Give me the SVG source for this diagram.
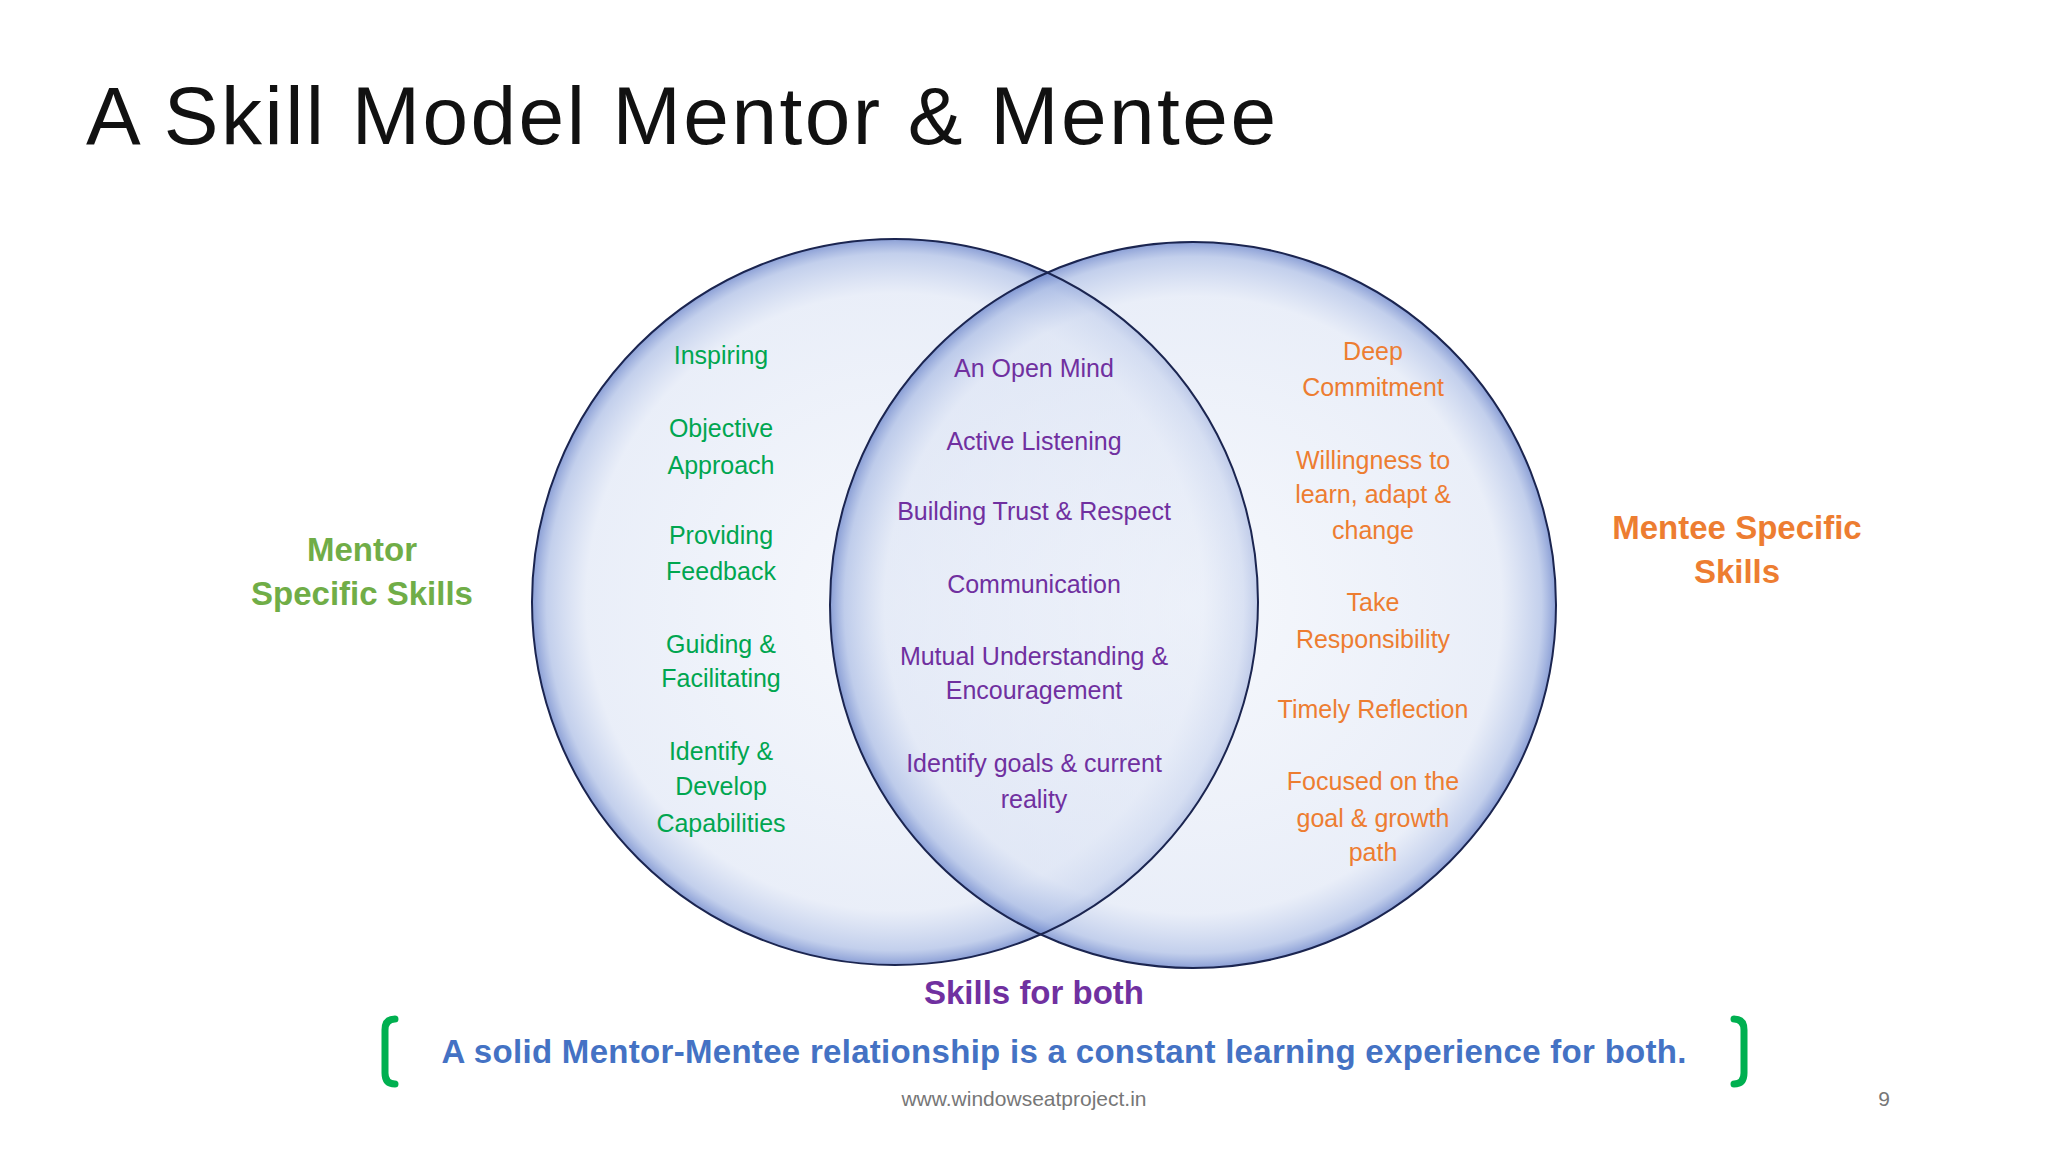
<svg xmlns="http://www.w3.org/2000/svg" width="2048" height="1152" viewBox="0 0 2048 1152">
<defs>
<radialGradient id="g" cx="50%" cy="50%" r="50%">
<stop offset="0" stop-color="#eef2fa" stop-opacity="0.55"/>
<stop offset="0.85" stop-color="#dbe3f4" stop-opacity="0.6"/>
<stop offset="0.96" stop-color="#a9bbe4" stop-opacity="0.7"/>
<stop offset="1" stop-color="#6f88cc" stop-opacity="0.8"/>
</radialGradient>
</defs>
<style>
text{font-family:"Liberation Sans",Arial,sans-serif;text-anchor:middle}
.l{fill:#00a650;font-size:25px}
.m{fill:#7030a0;font-size:25px}
.r{fill:#ed7d31;font-size:25px}
.h{font-size:33px;font-weight:bold}
.c{fill:url(#g)}
.o{fill:none;stroke:#1b2550;stroke-width:2}
</style>
<rect width="2048" height="1152" fill="#fff"/>
<text x="86" y="144" style="text-anchor:start;font-size:82px" fill="#111" textLength="1190">A Skill Model Mentor &amp; Mentee</text>
<g id="circles">
<circle id="mentor" class="c" cx="895" cy="602" r="363"/>
<circle id="mentee" class="c" cx="1193" cy="605" r="363"/>
<circle class="o" cx="895" cy="602" r="363"/>
<circle class="o" cx="1193" cy="605" r="363"/>
</g>
<g id="left">
<text class="l" x="721" y="364">Inspiring</text>
<text class="l" x="721" y="437">Objective</text>
<text class="l" x="721" y="474">Approach</text>
<text class="l" x="721" y="544">Providing</text>
<text class="l" x="721" y="580">Feedback</text>
<text class="l" x="721" y="653">Guiding &amp;</text>
<text class="l" x="721" y="687">Facilitating</text>
<text class="l" x="721" y="760">Identify &amp;</text>
<text class="l" x="721" y="795">Develop</text>
<text class="l" x="721" y="832">Capabilities</text>
</g>
<g id="middle">
<text class="m" x="1034" y="377">An Open Mind</text>
<text class="m" x="1034" y="450">Active Listening</text>
<text class="m" x="1034" y="520">Building Trust &amp; Respect</text>
<text class="m" x="1034" y="593">Communication</text>
<text class="m" x="1034" y="665">Mutual Understanding &amp;</text>
<text class="m" x="1034" y="699">Encouragement</text>
<text class="m" x="1034" y="772">Identify goals &amp; current</text>
<text class="m" x="1034" y="808">reality</text>
</g>
<g id="right">
<text class="r" x="1373" y="360">Deep</text>
<text class="r" x="1373" y="396">Commitment</text>
<text class="r" x="1373" y="469">Willingness to</text>
<text class="r" x="1373" y="503">learn, adapt &amp;</text>
<text class="r" x="1373" y="539">change</text>
<text class="r" x="1373" y="611">Take</text>
<text class="r" x="1373" y="648">Responsibility</text>
<text class="r" x="1373" y="718">Timely Reflection</text>
<text class="r" x="1373" y="790">Focused on the</text>
<text class="r" x="1373" y="827">goal &amp; growth</text>
<text class="r" x="1373" y="861">path</text>
</g>
<g id="labels">
<text class="h" x="362" y="561" fill="#70ad47">Mentor</text>
<text class="h" x="362" y="605" fill="#70ad47">Specific Skills</text>
<text class="h" x="1737" y="539" fill="#ed7d31">Mentee Specific</text>
<text class="h" x="1737" y="583" fill="#ed7d31">Skills</text>
<text class="h" x="1034" y="1004" fill="#7030a0">Skills for both</text>
<text x="1064" y="1063" fill="#4472c4" style="font-size:33px;font-weight:bold" textLength="1245">A solid Mentor-Mentee relationship is a constant learning experience for both.</text>
</g>
<g id="brackets" fill="none" stroke="#00b050" stroke-width="7" stroke-linecap="round">
<path d="M395 1019 Q385 1019 385 1030 L385 1073 Q385 1084 395 1084"/>
<path d="M1734 1019 Q1744 1019 1744 1030 L1744 1073 Q1744 1084 1734 1084"/>
</g>
<text x="1024" y="1106" fill="#777" style="font-size:21px">www.windowseatproject.in</text>
<text x="1884" y="1106" fill="#777" style="font-size:21px">9</text>
</svg>
